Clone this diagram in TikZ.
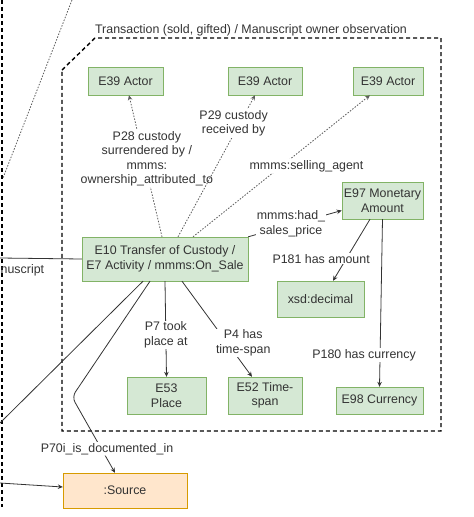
\documentclass[tikz,border=0pt]{standalone}
\usepackage{fontspec}
\setmainfont{Liberation Sans}
\usetikzlibrary{arrows.meta}

\definecolor{entfill}{HTML}{D5E8D4}
\definecolor{entline}{HTML}{82B366}
\definecolor{srcfill}{HTML}{FFE6CC}
\definecolor{srcline}{HTML}{D79B00}
\definecolor{txt}{HTML}{333333}

\begin{document}
\begin{tikzpicture}[x=1pt,y=-1pt,
  font=\fontsize{12.4}{14.5}\selectfont,
  ent/.style={draw=entline,fill=entfill,align=center,text=txt,inner sep=2pt},
  src/.style={draw=srcline,fill=srcfill,align=center,text=txt,inner sep=2pt},
  lbl/.style={fill=white,align=center,text=txt,inner sep=1pt},
  link/.style={draw=txt,line width=0.8pt,-{Stealth[length=5pt,width=4.5pt]}},
  dotlink/.style={link,draw=txt!80,dash pattern=on 1.5pt off 1.5pt},
  region/.style={draw=black,line width=1.4pt,dash pattern=on 4pt off 3pt}]
\useasboundingbox (0,0) rectangle (474,517);

% outer region edge and the group box
\draw[region] (2,0) -- (2,507);
\draw[txt!80,line width=0.8pt,dash pattern=on 1.5pt off 1.5pt] (72,0) -- (3,178);
\draw[region] (62,70) -- (95,38) -- (441,38) -- (441,431) -- (62,431) -- cycle;
\node[text=txt] (title) at (251,30) {Transaction (sold, gifted) / Manuscript owner observation};

% entities
\node[ent,minimum width=166pt,minimum height=44pt] (e10) at (165,259) {E10 Transfer of Custody /\\E7 Activity / mmms:On\_Sale};
\node[ent,minimum width=75pt,minimum height=28pt] (act1) at (125.5,81) {E39 Actor};
\node[ent,minimum width=74pt,minimum height=28pt] (act2) at (265,81) {E39 Actor};
\node[ent,minimum width=70pt,minimum height=28pt] (act3) at (388,81) {E39 Actor};
\node[ent,minimum width=81pt,minimum height=37pt] (e97) at (382.5,200.5) {E97 Monetary\\Amount};
\node[ent,minimum width=87pt,minimum height=36pt] (dec) at (320.5,299) {xsd:decimal};
\node[ent,minimum width=87pt,minimum height=27pt] (e98) at (379.5,400.5) {E98 Currency};
\node[ent,minimum width=74pt,minimum height=37pt] (e52) at (265,395.5) {E52 Time-\\span};
\node[ent,minimum width=79pt,minimum height=37pt] (e53) at (166.5,395.5) {E53\\Place};
\node[src,minimum width=124pt,minimum height=35pt] (source) at (125,490.5) {:Source};

% loose ends leaving the picture
\coordinate (msleft) at (0,258);
\coordinate (farleft) at (0,423);
\coordinate (srcleft) at (0,483);
\coordinate (bend) at (72,397);
\node[text=txt,anchor=west,inner sep=0pt] (mslbl) at (0.5,270) {nuscript};

% connectors
\draw[dotlink] ([xshift=-3pt]e10.north) -- node[lbl,pos=0.55,xshift=3pt] {P28 custody\\surrendered by /\\mmms:\\ownership\_attributed\_to} ([xshift=3.5pt]act1.south);
\draw[dotlink] ([xshift=13pt]e10.north) -- node[lbl,pos=0.8,xshift=-6pt] {P29 custody\\received by} ([xshift=-10pt]act2.south);
\draw[dotlink] ([xshift=28pt]e10.north) -- node[lbl,pos=0.5,xshift=25pt] {mmms:selling\_agent} ([xshift=-18pt]act3.south);
\draw[link] (e10.north east) -- node[lbl,pos=0.5,xshift=-4pt] {mmms:had\_\\sales\_price} ([yshift=-10pt]e97.west);
\draw[link] ([xshift=-12.5pt]e97.south) -- node[lbl,pos=0.645,xshift=-25pt] {P181 has amount} ([xshift=12.5pt]dec.north);
\draw[link] (e97.south) -- node[lbl,pos=0.81,xshift=-16pt] {P180 has currency} (e98.north);
\draw[link] (e10.south) -- node[lbl,pos=0.56] {P7 took\\place at} (e53.north);
\draw[link] ([xshift=17pt]e10.south) -- node[lbl,pos=0.646,xshift=16pt] {P4 has\\time-span} ([xshift=-13pt]e52.north);
\draw[link,rounded corners=6pt] ([xshift=-15pt]e10.south) -- (bend) -- node[lbl,pos=0.684,xshift=5.6pt] {P70i\_is\_documented\_in} ([xshift=-10pt]source.north);
\draw[draw=txt,line width=0.8pt] ([xshift=-22pt]e10.south) -- (farleft);
\draw[draw=txt,line width=0.8pt] (msleft) -- (e10.west);
\draw[link] (srcleft) -- ([yshift=3.5pt]source.west);
\end{tikzpicture}
\end{document}
